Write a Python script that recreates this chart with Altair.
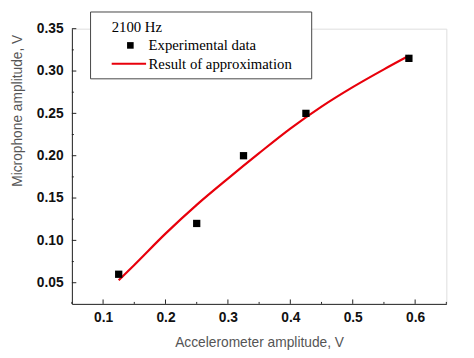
import altair as alt
import pandas as pd

# measured points
acc = [0.125, 0.25, 0.325, 0.425, 0.59]
mic = [0.06, 0.12, 0.20, 0.25, 0.315]

# approximation curve
fit_x = [0.125, 0.15, 0.2, 0.25, 0.3, 0.35, 0.4, 0.45, 0.5, 0.55, 0.59]
fit_y = [0.053, 0.071, 0.108, 0.142, 0.173, 0.203, 0.232, 0.258, 0.281, 0.302, 0.318]

x_major = [0.1, 0.2, 0.3, 0.4, 0.5, 0.6]
x_minor = [0.05, 0.15, 0.25, 0.35, 0.45, 0.55, 0.65]
y_major = [0.05, 0.10, 0.15, 0.20, 0.25, 0.30, 0.35]
y_minor = [0.075, 0.125, 0.175, 0.225, 0.275, 0.325]

legend_title = "2100 Hz"
legend_labels = ["Experimental data", "Result of approximation"]

W, H = 381, 280
SANS = "Liberation Sans"
SERIF = "Liberation Serif"

X = alt.X("x:Q",
          scale=alt.Scale(domain=[0.05, 0.65], nice=False, zero=False),
          axis=alt.Axis(values=x_major, format=".1f", ticks=False, grid=False,
                        domainColor="#222", domainWidth=1,
                        labelFont=SANS, labelFontSize=14, labelColor="#111",
                        labelFontWeight="bold", labelPadding=7,
                        title="Accelerometer amplitude, V", titleFont=SANS,
                        titleFontSize=14, titleFontWeight="normal", titleColor="#555",
                        titleY=43, titleBaseline="alphabetic"))
Y = alt.Y("y:Q",
          scale=alt.Scale(domain=[0.025, 0.35], nice=False, zero=False),
          axis=alt.Axis(values=y_major, format=".2f", ticks=False, grid=False,
                        domainColor="#222", domainWidth=1,
                        labelFont=SANS, labelFontSize=14, labelColor="#111",
                        labelFontWeight="bold", labelPadding=9,
                        title="Microphone amplitude, V", titleFont=SANS,
                        titleFontSize=14, titleFontWeight="normal", titleColor="#555",
                        titleX=-51, titleY=83, titleAlign="center",
                        titleBaseline="alphabetic"))

pts = pd.DataFrame({"x": acc, "y": mic})
fit = pd.DataFrame({"x": fit_x, "y": fit_y})

points = alt.Chart(pts).mark_point(shape="square", filled=True, size=55,
                                   color="black", opacity=1).encode(x=X, y=Y)
line = alt.Chart(fit).mark_line(color="#e8000b", strokeWidth=2.2,
                                interpolate="monotone").encode(x=X, y=Y)

xmaj = alt.Chart(pd.DataFrame({"x": x_major})).mark_rule(color="#222").encode(
    x=X, y=alt.value(H), y2=alt.value(H - 4.5))
xmin = alt.Chart(pd.DataFrame({"x": x_minor})).mark_rule(color="#222").encode(
    x=X, y=alt.value(H), y2=alt.value(H - 2))
ymaj = alt.Chart(pd.DataFrame({"y": y_major})).mark_rule(color="#222").encode(
    y=Y, x=alt.value(0), x2=alt.value(4.5))
ymin = alt.Chart(pd.DataFrame({"y": y_minor})).mark_rule(color="#222").encode(
    y=Y, x=alt.value(0), x2=alt.value(2))

one = alt.Data(values=[{}])
box = alt.Chart(one).mark_rect(fill="white", stroke="#444", strokeWidth=1).encode(
    x=alt.value(19), x2=alt.value(244), y=alt.value(-17), y2=alt.value(51))
t_title = alt.Chart(one).mark_text(font=SERIF, fontSize=15, align="left",
                                   baseline="middle", color="black").encode(
    x=alt.value(40.5), y=alt.value(-1.5), text=alt.value(legend_title))
t_exp = alt.Chart(one).mark_text(font=SERIF, fontSize=15, align="left",
                                 baseline="middle", color="black").encode(
    x=alt.value(78), y=alt.value(16.7), text=alt.value(legend_labels[0]))
t_res = alt.Chart(one).mark_text(font=SERIF, fontSize=15, align="left",
                                 baseline="middle", color="black").encode(
    x=alt.value(78), y=alt.value(35.7), text=alt.value(legend_labels[1]))
sym_sq = alt.Chart(one).mark_point(shape="square", filled=True, size=45,
                                   color="black", opacity=1).encode(
    x=alt.value(59.5), y=alt.value(17))
sym_ln = alt.Chart(one).mark_rule(color="#e8000b", strokeWidth=2.2).encode(
    x=alt.value(40.5), x2=alt.value(75.5), y=alt.value(35.7))

chart = alt.layer(
    xmaj, xmin, ymaj, ymin, line, points, box, t_title, t_exp, t_res, sym_sq, sym_ln
).properties(
    width=W, height=H,
    autosize=alt.AutoSizeParams(type="none"),
    padding={"left": 65, "top": 18, "right": 20, "bottom": 52},
).configure_view(stroke=None).configure(background="white")

chart.save("out.html", embed_options={"renderer": "svg", "actions": False})
